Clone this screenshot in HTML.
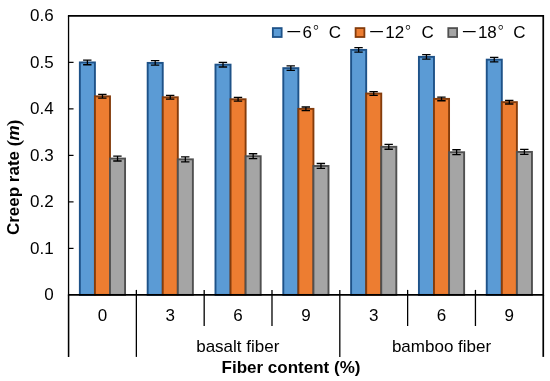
<!DOCTYPE html>
<html lang="en"><head><meta charset="utf-8"><title>Creep rate chart</title>
<style>html,body{margin:0;padding:0;background:#fff}svg{display:block}text{font-family:"Liberation Sans","Noto Sans CJK SC",sans-serif;font-size:17.0px;fill:#000}</style></head><body>
<svg width="550" height="381" viewBox="0 0 550 381">
<rect width="550" height="381" fill="#fff"/>
<rect x="79.85" y="62.43" width="15.07" height="232.47" fill="#5B9BD5" stroke="#1E5288" stroke-width="1.9"/>
<rect x="94.92" y="96.33" width="15.07" height="198.57" fill="#ED7D31" stroke="#843C0C" stroke-width="1.9"/>
<rect x="109.99" y="158.55" width="15.07" height="136.35" fill="#A5A5A5" stroke="#505050" stroke-width="1.9"/>
<path d="M87.39 60.11V64.76M83.09 60.11h8.4M83.09 64.76h8.4" stroke="#000" stroke-width="1.3" fill="none"/>
<path d="M102.46 94.47V98.19M98.16 94.47h8.4M98.16 98.19h8.4" stroke="#000" stroke-width="1.3" fill="none"/>
<path d="M117.53 156.09V161.01M113.23 156.09h8.4M113.23 161.01h8.4" stroke="#000" stroke-width="1.3" fill="none"/>
<rect x="147.67" y="62.90" width="15.07" height="232.00" fill="#5B9BD5" stroke="#1E5288" stroke-width="1.9"/>
<rect x="162.74" y="97.26" width="15.07" height="197.64" fill="#ED7D31" stroke="#843C0C" stroke-width="1.9"/>
<rect x="177.81" y="159.34" width="15.07" height="135.56" fill="#A5A5A5" stroke="#505050" stroke-width="1.9"/>
<path d="M155.20 60.58V65.22M150.90 60.58h8.4M150.90 65.22h8.4" stroke="#000" stroke-width="1.3" fill="none"/>
<path d="M170.27 95.40V99.12M165.97 95.40h8.4M165.97 99.12h8.4" stroke="#000" stroke-width="1.3" fill="none"/>
<path d="M185.34 156.88V161.80M181.04 156.88h8.4M181.04 161.80h8.4" stroke="#000" stroke-width="1.3" fill="none"/>
<rect x="215.48" y="64.66" width="15.07" height="230.24" fill="#5B9BD5" stroke="#1E5288" stroke-width="1.9"/>
<rect x="230.55" y="99.26" width="15.07" height="195.64" fill="#ED7D31" stroke="#843C0C" stroke-width="1.9"/>
<rect x="245.62" y="156.23" width="15.07" height="138.67" fill="#A5A5A5" stroke="#505050" stroke-width="1.9"/>
<path d="M223.02 62.34V66.98M218.72 62.34h8.4M218.72 66.98h8.4" stroke="#000" stroke-width="1.3" fill="none"/>
<path d="M238.09 97.40V101.11M233.79 97.40h8.4M233.79 101.11h8.4" stroke="#000" stroke-width="1.3" fill="none"/>
<path d="M253.16 153.77V158.69M248.86 153.77h8.4M248.86 158.69h8.4" stroke="#000" stroke-width="1.3" fill="none"/>
<rect x="283.30" y="68.14" width="15.07" height="226.76" fill="#5B9BD5" stroke="#1E5288" stroke-width="1.9"/>
<rect x="298.37" y="108.87" width="15.07" height="186.03" fill="#ED7D31" stroke="#843C0C" stroke-width="1.9"/>
<rect x="313.43" y="165.98" width="15.07" height="128.92" fill="#A5A5A5" stroke="#505050" stroke-width="1.9"/>
<path d="M290.83 65.82V70.47M286.53 65.82h8.4M286.53 70.47h8.4" stroke="#000" stroke-width="1.3" fill="none"/>
<path d="M305.90 107.01V110.72M301.60 107.01h8.4M301.60 110.72h8.4" stroke="#000" stroke-width="1.3" fill="none"/>
<path d="M320.97 163.52V168.44M316.67 163.52h8.4M316.67 168.44h8.4" stroke="#000" stroke-width="1.3" fill="none"/>
<rect x="351.11" y="49.90" width="15.07" height="245.00" fill="#5B9BD5" stroke="#1E5288" stroke-width="1.9"/>
<rect x="366.18" y="93.54" width="15.07" height="201.36" fill="#ED7D31" stroke="#843C0C" stroke-width="1.9"/>
<rect x="381.25" y="146.80" width="15.07" height="148.10" fill="#A5A5A5" stroke="#505050" stroke-width="1.9"/>
<path d="M358.64 47.57V52.22M354.34 47.57h8.4M354.34 52.22h8.4" stroke="#000" stroke-width="1.3" fill="none"/>
<path d="M373.71 91.69V95.40M369.41 91.69h8.4M369.41 95.40h8.4" stroke="#000" stroke-width="1.3" fill="none"/>
<path d="M388.78 144.34V149.26M384.48 144.34h8.4M384.48 149.26h8.4" stroke="#000" stroke-width="1.3" fill="none"/>
<rect x="418.92" y="56.86" width="15.07" height="238.04" fill="#5B9BD5" stroke="#1E5288" stroke-width="1.9"/>
<rect x="433.99" y="98.88" width="15.07" height="196.02" fill="#ED7D31" stroke="#843C0C" stroke-width="1.9"/>
<rect x="449.06" y="152.24" width="15.07" height="142.66" fill="#A5A5A5" stroke="#505050" stroke-width="1.9"/>
<path d="M426.46 54.54V59.18M422.16 54.54h8.4M422.16 59.18h8.4" stroke="#000" stroke-width="1.3" fill="none"/>
<path d="M441.53 97.03V100.74M437.23 97.03h8.4M437.23 100.74h8.4" stroke="#000" stroke-width="1.3" fill="none"/>
<path d="M456.60 149.77V154.70M452.30 149.77h8.4M452.30 154.70h8.4" stroke="#000" stroke-width="1.3" fill="none"/>
<rect x="486.74" y="59.65" width="15.07" height="235.25" fill="#5B9BD5" stroke="#1E5288" stroke-width="1.9"/>
<rect x="501.81" y="102.13" width="15.07" height="192.77" fill="#ED7D31" stroke="#843C0C" stroke-width="1.9"/>
<rect x="516.88" y="151.91" width="15.07" height="142.99" fill="#A5A5A5" stroke="#505050" stroke-width="1.9"/>
<path d="M494.27 57.33V61.97M489.97 57.33h8.4M489.97 61.97h8.4" stroke="#000" stroke-width="1.3" fill="none"/>
<path d="M509.34 100.28V103.99M505.04 100.28h8.4M505.04 103.99h8.4" stroke="#000" stroke-width="1.3" fill="none"/>
<path d="M524.41 149.45V154.37M520.11 149.45h8.4M520.11 154.37h8.4" stroke="#000" stroke-width="1.3" fill="none"/>
<path d="M67.90 15.85H543.25V294.90H67.90" fill="none" stroke="#000" stroke-width="1.7" stroke-linejoin="miter"/>
<line x1="68.55" y1="15.85" x2="68.55" y2="356.90" stroke="#000" stroke-width="1.3"/>
<text x="53.6" y="300.30" text-anchor="end">0</text>
<line x1="68.55" y1="248.39" x2="73.55" y2="248.39" stroke="#000" stroke-width="1.2"/>
<text x="53.6" y="253.79" text-anchor="end">0.1</text>
<line x1="68.55" y1="201.88" x2="73.55" y2="201.88" stroke="#000" stroke-width="1.2"/>
<text x="53.6" y="207.28" text-anchor="end">0.2</text>
<line x1="68.55" y1="155.38" x2="73.55" y2="155.38" stroke="#000" stroke-width="1.2"/>
<text x="53.6" y="160.78" text-anchor="end">0.3</text>
<line x1="68.55" y1="108.87" x2="73.55" y2="108.87" stroke="#000" stroke-width="1.2"/>
<text x="53.6" y="114.27" text-anchor="end">0.4</text>
<line x1="68.55" y1="62.36" x2="73.55" y2="62.36" stroke="#000" stroke-width="1.2"/>
<text x="53.6" y="67.76" text-anchor="end">0.5</text>
<text x="53.6" y="21.25" text-anchor="end">0.6</text>
<line x1="68.55" y1="294.90" x2="68.55" y2="356.90" stroke="#000" stroke-width="1.3"/>
<line x1="136.36" y1="289.90" x2="136.36" y2="356.90" stroke="#000" stroke-width="1.3"/>
<line x1="204.18" y1="289.90" x2="204.18" y2="326.00" stroke="#000" stroke-width="1.3"/>
<line x1="271.99" y1="289.90" x2="271.99" y2="326.00" stroke="#000" stroke-width="1.3"/>
<line x1="339.81" y1="289.90" x2="339.81" y2="356.90" stroke="#000" stroke-width="1.3"/>
<line x1="407.62" y1="289.90" x2="407.62" y2="326.00" stroke="#000" stroke-width="1.3"/>
<line x1="475.44" y1="289.90" x2="475.44" y2="326.00" stroke="#000" stroke-width="1.3"/>
<line x1="543.25" y1="294.90" x2="543.25" y2="356.90" stroke="#000" stroke-width="1.7"/>
<text x="102.46" y="321.25" text-anchor="middle">0</text>
<text x="170.27" y="321.25" text-anchor="middle">3</text>
<text x="238.09" y="321.25" text-anchor="middle">6</text>
<text x="305.90" y="321.25" text-anchor="middle">9</text>
<text x="373.71" y="321.25" text-anchor="middle">3</text>
<text x="441.53" y="321.25" text-anchor="middle">6</text>
<text x="509.34" y="321.25" text-anchor="middle">9</text>
<text x="237.79" y="351.7" text-anchor="middle">basalt fiber</text>
<text x="441.53" y="351.7" text-anchor="middle">bamboo fiber</text>
<text x="291" y="373.3" text-anchor="middle" font-weight="bold">Fiber content (%)</text>
<text transform="translate(19.3 177.4) rotate(-90)" text-anchor="middle" font-weight="bold">Creep rate <tspan style="font-family:'Liberation Serif',serif" font-size="19px" dy="1">(</tspan><tspan font-style="italic" dy="-1" dx="-0.7">m</tspan><tspan style="font-family:'Liberation Serif',serif" font-size="19px" dy="1" dx="-0.6">)</tspan></text>
<rect x="272.85" y="28.1" width="8.8" height="8.9" fill="#5B9BD5" stroke="#1E5288" stroke-width="1.8"/>
<text font-size="16.7px"><tspan x="284.95" y="37.65" style="font-family:'Noto Sans CJK SC',sans-serif" font-size="17.6px">－</tspan><tspan x="302.45" y="38.00">6</tspan><tspan x="313.04" y="37.90" style="font-family:'Noto Sans CJK SC',sans-serif" font-weight="300" font-size="17px">°</tspan><tspan x="328.64" y="38.00">C</tspan></text>
<rect x="355.60" y="28.1" width="8.8" height="8.9" fill="#ED7D31" stroke="#843C0C" stroke-width="1.8"/>
<text font-size="16.7px"><tspan x="367.70" y="37.65" style="font-family:'Noto Sans CJK SC',sans-serif" font-size="17.6px">－</tspan><tspan x="385.20" y="38.00">12</tspan><tspan x="405.07" y="37.90" style="font-family:'Noto Sans CJK SC',sans-serif" font-weight="300" font-size="17px">°</tspan><tspan x="421.47" y="38.00">C</tspan></text>
<rect x="448.30" y="28.1" width="8.8" height="8.9" fill="#A5A5A5" stroke="#505050" stroke-width="1.8"/>
<text font-size="16.7px"><tspan x="460.40" y="37.65" style="font-family:'Noto Sans CJK SC',sans-serif" font-size="17.6px">－</tspan><tspan x="477.90" y="38.00">18</tspan><tspan x="497.77" y="37.90" style="font-family:'Noto Sans CJK SC',sans-serif" font-weight="300" font-size="17px">°</tspan><tspan x="513.37" y="38.00">C</tspan></text>
</svg></body></html>
